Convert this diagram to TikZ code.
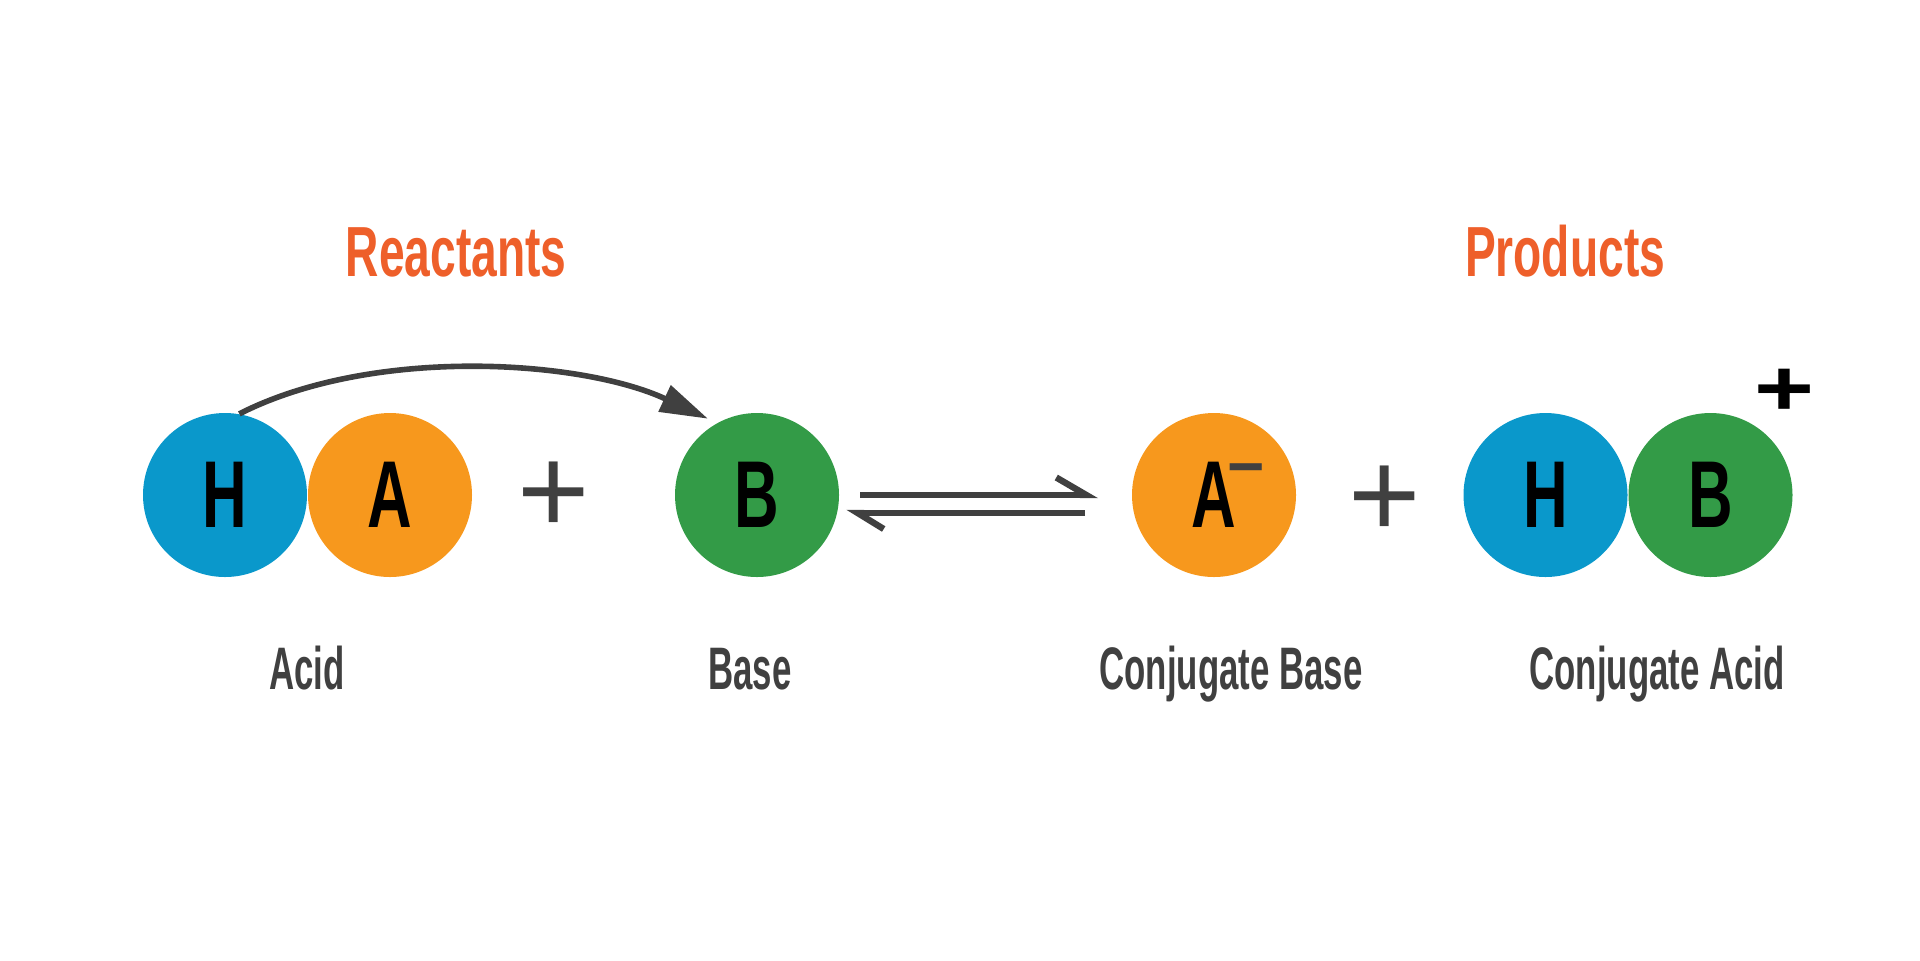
\documentclass[tikz,border=0pt]{standalone}
\usepackage{fontspec}
\setmainfont{Liberation Sans}
\newfontfamily\headfont{Liberation Sans}[FakeStretch=0.65]
\newfontfamily\labelfont{Liberation Sans}[FakeStretch=0.58]
\newfontfamily\atomfont{Liberation Sans}[FakeStretch=0.65]
\usetikzlibrary{arrows.meta}
\definecolor{atomblue}{HTML}{0A98CB}
\definecolor{atomorange}{HTML}{F7981D}
\definecolor{atomgreen}{HTML}{339B47}
\definecolor{headorange}{HTML}{EE5F2A}
\definecolor{inkgray}{HTML}{404040}
\tikzstyle{atom} = [circle, minimum size=82pt, inner sep=0pt, text=black,
    font=\atomfont\bfseries\fontsize{47.5}{47.5}\selectfont]
\tikzstyle{plus} = [inner sep=0pt, text=inkgray, font=\fontsize{62}{62}\selectfont]
\tikzstyle{head} = [inner sep=0pt, text=headorange, text height=26pt, text depth=0pt,
    font=\headfont\bfseries\fontsize{35.5}{35.5}\selectfont]
\tikzstyle{label} = [inner sep=0pt, text=inkgray, text height=21.5pt, text depth=0pt,
    font=\labelfont\bfseries\fontsize{30}{30}\selectfont]
\tikzstyle{line} = [draw=inkgray, line width=2.8pt, -{Triangle[length=24pt, width=14pt]}]
\tikzstyle{eqline} = [draw=inkgray, line width=3.2pt]

\begin{document}
\begin{tikzpicture}[node distance = 82.5pt, auto]
    \useasboundingbox (0,0) rectangle (960pt,-480pt);
    % Place nodes
    \node [atom, fill=atomblue] (H) at (112.5pt,-247.5pt) {H};
    \node [atom, fill=atomorange, right of=H] (A) {A};
    \node [plus, right of=A, node distance=81.8pt, yshift=-1.2pt] (plusa) {+};
    \node [atom, fill=atomgreen, right of=A, node distance=183.5pt] (B) {B};
    \node [atom, fill=atomorange, right of=B, node distance=228.5pt] (Aminus) {A};
    \node [inner sep=0pt, text=inkgray, font=\bfseries\fontsize{32}{32}\selectfont] (minus) at (623pt,-238pt) {−};
    \node [plus, right of=Aminus, node distance=85.3pt, yshift=-3.3pt] (plusb) {+};
    \node [atom, fill=atomblue, right of=Aminus, node distance=165.75pt] (Hb) {H};
    \node [atom, fill=atomgreen, right of=Hb] (Bb) {B};
    \node [inner sep=0pt, text=black, xscale=1.3, font=\bfseries\fontsize{39.5}{39.5}\selectfont] (charge) at (892pt,-196pt) {+};
    \node [head] (reactants) at (228pt,-125pt) {Reactants};
    \node [head] (products) at (782.5pt,-125pt) {Products};
    \node [label] (acid) at (153.5pt,-334pt) {Acid};
    \node [label] (base) at (375pt,-334pt) {Base};
    \node [label] (conjbase) at (615.5pt,-334pt) {Conjugate Base};
    \node [label] (conjacid) at (828.5pt,-334pt) {Conjugate Acid};
    % Draw edges
    \path [line, shorten >=5pt] (H.80) to [out=27, in=155, looseness=0.8] (B.119);
    \path [eqline, -{Straight Barb[harpoon, length=15pt, width=17.5pt, line width=3.2pt]}, shorten <=10.5pt, shorten >=16.75pt] (B.east) -- (Aminus.west);
    \path [eqline, -{Straight Barb[harpoon, length=13pt, width=16pt, line width=3.2pt]}, shorten <=23.25pt, shorten >=3.5pt] ([yshift=-9pt]Aminus.west) -- ([yshift=-9pt]B.east);
\end{tikzpicture}
\end{document}
